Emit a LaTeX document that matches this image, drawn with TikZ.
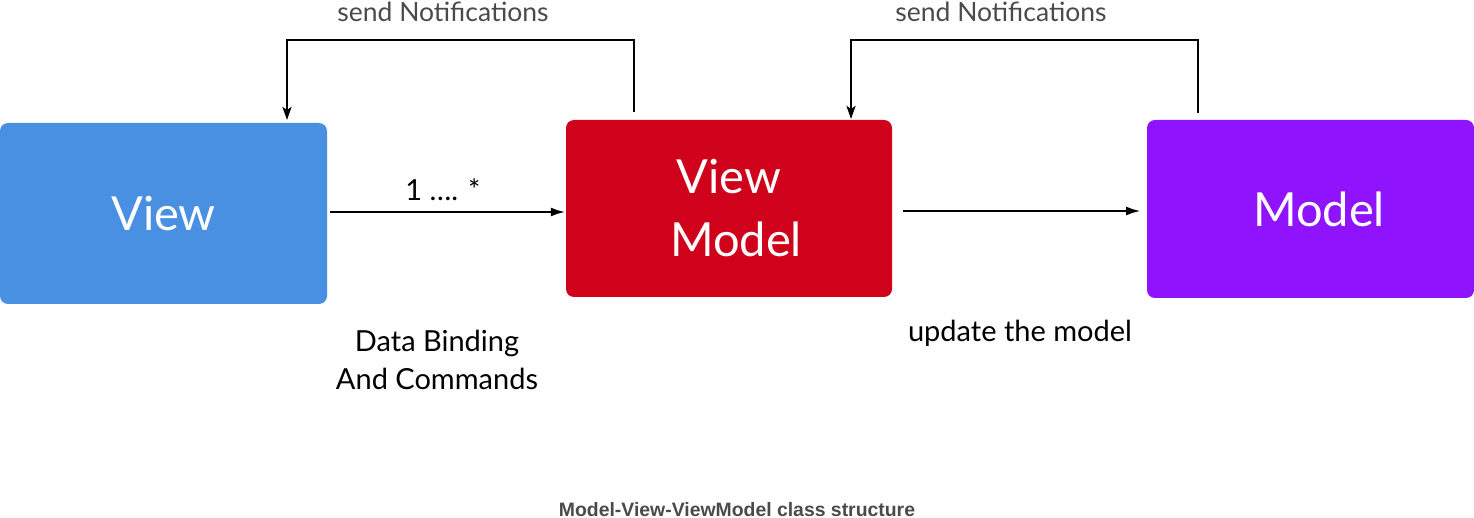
\documentclass[tikz,border=0pt]{standalone}
\usepackage{fontspec}
\setmainfont{Lato}
\newfontfamily\capfont{Liberation Sans}
\usetikzlibrary{arrows.meta}
\definecolor{cblue}{HTML}{4A90E2}
\definecolor{cred}{HTML}{D0021B}
\definecolor{cpurple}{HTML}{9013FE}
\definecolor{cgray}{HTML}{4A4A4A}
\begin{document}
\begin{tikzpicture}[x=1pt,y=-1pt,
  box/.style={rounded corners=8pt,inner sep=0pt,text=white,font=\fontsize{47}{63}\selectfont,align=center},
  conn/.style={line width=2.6pt,-{Latex[length=15pt,width=9pt]}},
  fb/.style={line width=2.4pt,-{Stealth[length=13pt,width=9pt,inset=3pt]}},
  lbl/.style={font=\fontsize{29}{38}\selectfont,align=center},
  glbl/.style={font=\fontsize{26.5}{30}\selectfont,text=cgray}]
\useasboundingbox (0,0) rectangle (1474,518);
\node[box,fill=cblue,minimum width=327pt,minimum height=181pt] (view) at (163.5,213.5) {View};
\node[box,fill=cred,minimum width=326pt,minimum height=177pt] (vm) at (729,208.5) {View\\\hspace*{14pt}Model};
\node[box,fill=cpurple,minimum width=327pt,minimum height=178pt] (model) at (1310.5,209) {\hspace*{17pt}Model};
\coordinate (a1s) at (330,212);
\draw[conn] (a1s) -- (vm.west |- a1s);
\coordinate (a2s) at (903,211);
\coordinate (a2e) at (1141,211);
\draw[conn] (a2s) -- (a2e);
\coordinate (f1s) at (634,112);
\coordinate (f1e) at (287,120);
\draw[fb] (f1s) -- (634,40) -- (287,40) -- (f1e);
\coordinate (f2s) at (1198,113);
\coordinate (f2e) at (851,119);
\draw[fb] (f2s) -- (1198,40) -- (851,40) -- (f2e);
\node[glbl] (sn1) at (443,12) {send Notifications};
\node[glbl] (sn2) at (1001,12) {send Notifications};
\node[lbl] (one) at (443,190) {1 …. *};
\node[lbl] (db) at (437,360) {Data Binding\\And Commands};
\node[lbl] (upd) at (1020,333) {update the model};
\node[font=\capfont\bfseries\fontsize{19.4}{22}\selectfont,text=cgray,inner sep=0pt,anchor=base] (cap) at (737,516) {Model-View-ViewModel class structure};
\end{tikzpicture}
\end{document}
